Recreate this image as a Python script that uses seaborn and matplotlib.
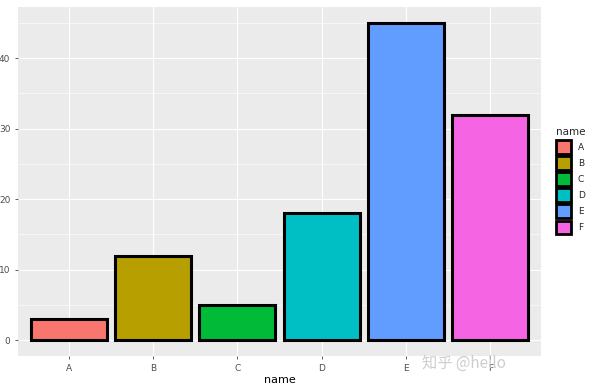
import matplotlib
matplotlib.use("Agg")
import matplotlib.pyplot as plt
import seaborn as sns
import pandas as pd
from matplotlib.patches import Patch

names = ["A", "B", "C", "D", "E", "F"]
values = [3, 12, 5, 18, 45, 32]
colors = ["#F8766D", "#B79F00", "#00BA38", "#00BFC4", "#619CFF", "#F564E3"]
yticks = [0, 10, 20, 30, 40]

df = pd.DataFrame({"name": names, "value": values})

sns.set_theme(style="white")
plt.rcParams['font.family'] = ['DejaVu Sans']

fig = plt.figure(figsize=(6, 3.87), dpi=100)
ax = fig.add_axes([0.03, 0.080, 0.8717, 0.902])
ax.set_facecolor("#EBEBEB")

sns.barplot(data=df, x="name", y="value", hue="name", palette=colors,
            order=names, hue_order=names, legend=False, width=0.9,
            edgecolor="black", linewidth=2.2, saturation=1, ax=ax, zorder=3)

ax.set_xlim(-0.6, 5.6)
ax.set_ylim(-2.25, 47.25)
ax.set_yticks(yticks)
ax.set_yticks([5, 15, 25, 35, 45], minor=True)
ax.grid(True, which="major", color="white", linewidth=0.8, zorder=0)
ax.grid(True, which="minor", axis="y", color="white", linewidth=0.4, zorder=0)
ax.set_axisbelow(True)
for s in ax.spines.values():
    s.set_visible(False)
ax.tick_params(axis="both", which="major", length=2.5, width=0.6, color="#444444",
               labelsize=6.5, labelcolor="#4D4D4D", pad=3, direction="out")
ax.tick_params(axis="both", which="minor", length=0)
ax.tick_params(bottom=True, left=True)
ax.set_xlabel("name", fontsize=8, color="black", labelpad=2)
ax.set_ylabel("")

handles = [Patch(facecolor=c, edgecolor="black", linewidth=2.0, label=n)
           for n, c in zip(names, colors)]
leg = fig.legend(handles=handles, title="name", loc="upper left",
                 bbox_to_anchor=(0.921, 0.68), frameon=False, fontsize=6.5,
                 title_fontsize=7.5, handlelength=1.6, handleheight=1.9,
                 handletextpad=0.8, labelspacing=0.3, borderaxespad=0)
leg._legend_box.align = "left"

fig.text(0.703, 0.062, "知乎 @hello", fontsize=11, color="#C8C8C8", alpha=0.9,
         family=["Noto Sans CJK SC", "DejaVu Sans"], va="center", ha="left")

fig.savefig("out.png", dpi=100)
